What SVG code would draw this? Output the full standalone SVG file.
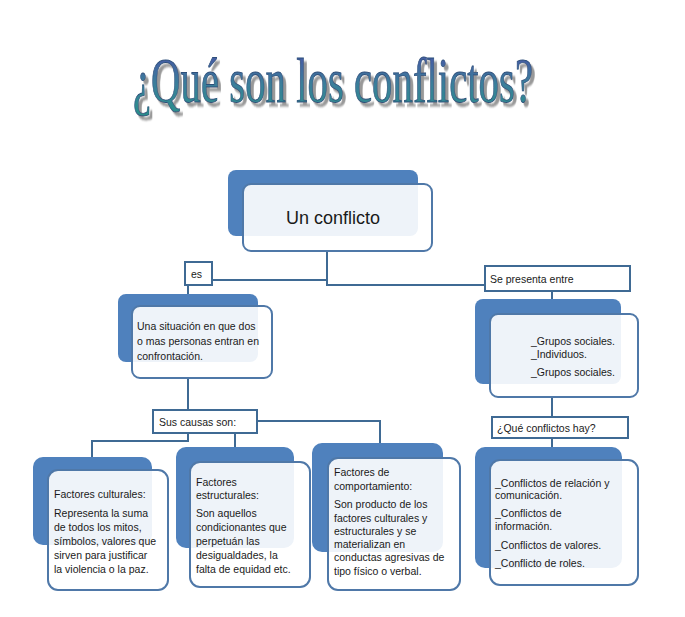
<svg xmlns="http://www.w3.org/2000/svg" width="685" height="617" viewBox="0 0 685 617">
<defs>
<linearGradient id="tg" x1="0" y1="0" x2="0" y2="1">
<stop offset="0" stop-color="#4a4fa8"/><stop offset="0.55" stop-color="#3a7f9a"/><stop offset="1" stop-color="#2a8f8a"/>
</linearGradient>
<filter id="sh" x="-5%" y="-20%" width="110%" height="150%">
<feDropShadow dx="3" dy="3" stdDeviation="0.6" flood-color="#999999"/>
</filter>
</defs>
<style>
.back{fill:#4f81bd}
.front{fill:#ffffff;fill-opacity:0.9;stroke:#4f78a8;stroke-width:2}
.lbl{fill:#ffffff;stroke:#3f6a94;stroke-width:2}
.t{font-family:"Liberation Sans",Arial,sans-serif;font-size:10.5px;fill:#1a1a1a}
.c{fill:none;stroke:#3f6a94;stroke-width:2}
</style>
<rect width="685" height="617" fill="#ffffff"/>
<g id="title" font-family="'Liberation Serif','Times New Roman',serif" font-size="47">
<text x="133" y="77" transform="scale(1,1.33)" fill="url(#tg)" stroke="#2d4f7a" stroke-width="0.6" filter="url(#sh)" textLength="400" lengthAdjust="spacingAndGlyphs">¿Qué son los conflictos?</text>
</g>
<g id="connectors" class="c">
<path class="c" d="M327 251V285H485M327 280H212"/>
<path class="c" d="M188 285V294M188 378V410"/>
<path class="c" d="M188 433V441H92V457M235 433V447M257 421H380V443"/>
<path class="c" d="M552 291V299M552 397V417M552 438V447"/>
</g>
<g id="n-conflicto">
<rect class="back" x="228" y="170" width="190" height="66" rx="8"/>
<rect class="front" x="243" y="184" width="189" height="67" rx="8"/>
<text x="286" y="224" font-family="'Liberation Sans',Arial,sans-serif" font-size="18" fill="#1a1a1a">Un conflicto</text>
</g>
<g id="l-es"><rect class="lbl" x="185" y="262" width="27" height="23"/><text class="t" x="191" y="278" font-size="12">es</text></g>
<g id="l-se"><rect class="lbl" x="485" y="266" width="145" height="25"/><text class="t" x="490" y="283" font-size="12">Se presenta entre</text></g>
<g id="n-situacion">
<rect class="back" x="118" y="294" width="140" height="68" rx="8"/>
<rect class="front" x="132" y="306" width="140" height="72" rx="8"/>
<text class="t" x="137" y="330">Una situación en que dos</text>
<text class="t" x="137" y="345">o mas personas entran en</text>
<text class="t" x="137" y="360">confrontación.</text>
</g>
<g id="n-grupos">
<rect class="back" x="475" y="299" width="146" height="85" rx="8"/>
<rect class="front" x="490" y="314" width="148" height="83" rx="8"/>
<text class="t" x="531" y="345">_Grupos sociales.</text>
<text class="t" x="531" y="358">_Individuos.</text>
<text class="t" x="531" y="376">_Grupos sociales.</text>
</g>
<g id="l-causas"><rect class="lbl" x="153" y="410" width="104" height="23"/><text class="t" x="159" y="426" font-size="12">Sus causas son:</text></g>
<g id="l-hay"><rect class="lbl" x="492" y="417" width="136" height="21"/><text class="t" x="497" y="432">¿Qué conflictos hay?</text></g>
<g id="n-culturales">
<rect class="back" x="33" y="457" width="119" height="88" rx="10"/>
<rect class="front" x="48" y="470" width="120" height="120" rx="10"/>
<text class="t" x="54" y="498">Factores culturales:</text>
<text class="t" x="54" y="517">Representa la suma</text>
<text class="t" x="54" y="531">de todos los mitos,</text>
<text class="t" x="54" y="545">símbolos, valores que</text>
<text class="t" x="54" y="559">sirven para justificar</text>
<text class="t" x="54" y="573">la violencia o la paz.</text>
</g>
<g id="n-estructurales">
<rect class="back" x="176" y="447" width="118" height="101" rx="10"/>
<rect class="front" x="190" y="462" width="120" height="125" rx="10"/>
<text class="t" x="196" y="486">Factores</text>
<text class="t" x="196" y="499">estructurales:</text>
<text class="t" x="196" y="517">Son aquellos</text>
<text class="t" x="196" y="531">condicionantes que</text>
<text class="t" x="196" y="545">perpetuán las</text>
<text class="t" x="196" y="559">desigualdades, la</text>
<text class="t" x="196" y="573">falta de equidad etc.</text>
</g>
<g id="n-comportamiento">
<rect class="back" x="312" y="443" width="131" height="109" rx="10"/>
<rect class="front" x="328" y="458" width="132" height="132" rx="10"/>
<text class="t" x="334" y="476">Factores de</text>
<text class="t" x="334" y="490">comportamiento:</text>
<text class="t" x="334" y="508">Son producto de los</text>
<text class="t" x="334" y="522">factores culturales y</text>
<text class="t" x="334" y="535">estructurales y se</text>
<text class="t" x="334" y="548">materializan en</text>
<text class="t" x="334" y="561">conductas agresivas de</text>
<text class="t" x="334" y="575">tipo físico o verbal.</text>
</g>
<g id="n-tipos">
<rect class="back" x="475" y="447" width="147" height="121" rx="10"/>
<rect class="front" x="490" y="460" width="148" height="125" rx="10"/>
<text class="t" x="495" y="487">_Conflictos de relación y</text>
<text class="t" x="495" y="499">comunicación.</text>
<text class="t" x="495" y="517">_Conflictos de</text>
<text class="t" x="495" y="530">información.</text>
<text class="t" x="495" y="549">_Conflictos de valores.</text>
<text class="t" x="495" y="567">_Conflicto de roles.</text>
</g>
</svg>
